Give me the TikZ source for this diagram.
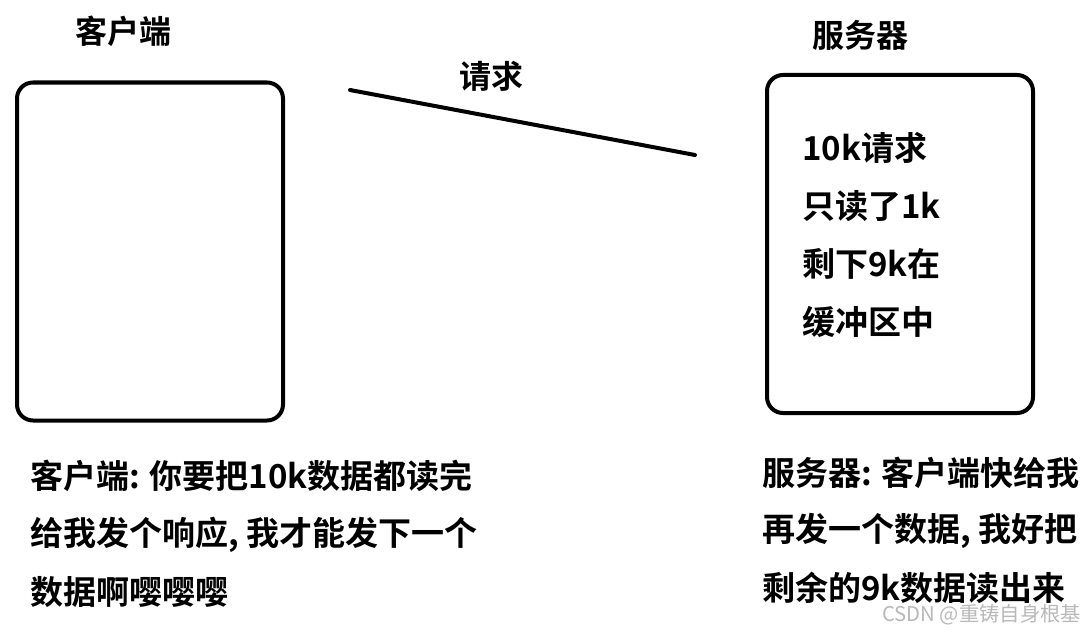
\documentclass[tikz,border=0pt]{standalone}
\usepackage{fontspec}
\setmainfont{Noto Sans CJK SC}[BoldFont={* Bold}]
\newfontfamily\cjkb{Noto Sans CJK SC Bold}
\tikzset{
  box/.style={draw=black, line width=4pt, rounded corners=16pt, minimum width=266pt, minimum height=338pt, inner sep=0pt},
  txt/.style={anchor=west, inner sep=0pt, font=\cjkb\fontsize{33}{40}\selectfont},
  ttl/.style={anchor=west, inner sep=0pt, font=\cjkb\fontsize{32}{38}\selectfont},
  wm/.style={anchor=west, inner sep=0pt, text=black!28, font=\fontsize{20.3}{24}\selectfont}
}
\begin{document}
\begin{tikzpicture}[x=1pt,y=-1pt]
\useasboundingbox (0,0) rectangle (1087,634);
\node[box] (client) at (150,251.5) {};
\node[box] (server) at (900,244) {};
\node[ttl] (ct) at (75,31) {客户端};
\node[ttl] (st) at (812,35) {服务器};
\node[ttl] (req) at (459,76) {请求};
\coordinate (a) at (350,90);
\coordinate (b) at (695,155);
\draw[line width=4pt, line cap=round] (a) -- (b);
\node[txt] (s1) at (802,148) {10k请求};
\node[txt] (s2) at (802,206) {只读了1k};
\node[txt] (s3) at (802,264) {剩下9k在};
\node[txt] (s4) at (802,322) {缓冲区中};
\node[txt] (c1) at (30,476) {客户端: 你要把10k数据都读完};
\node[txt] (c2) at (30,535) {给我发个响应, 我才能发下一个};
\node[txt] (c3) at (30,592) {数据啊嘤嘤嘤};
\node[txt] (r1) at (762,473) {服务器: 客户端快给我};
\node[txt] (r2) at (762,531) {再发一个数据, 我好把};
\node[txt] (r3) at (762,588) {剩余的9k数据读出来};
\node[wm] (w) at (882,615) {CSDN @重铸自身根基};
\end{tikzpicture}
\end{document}
